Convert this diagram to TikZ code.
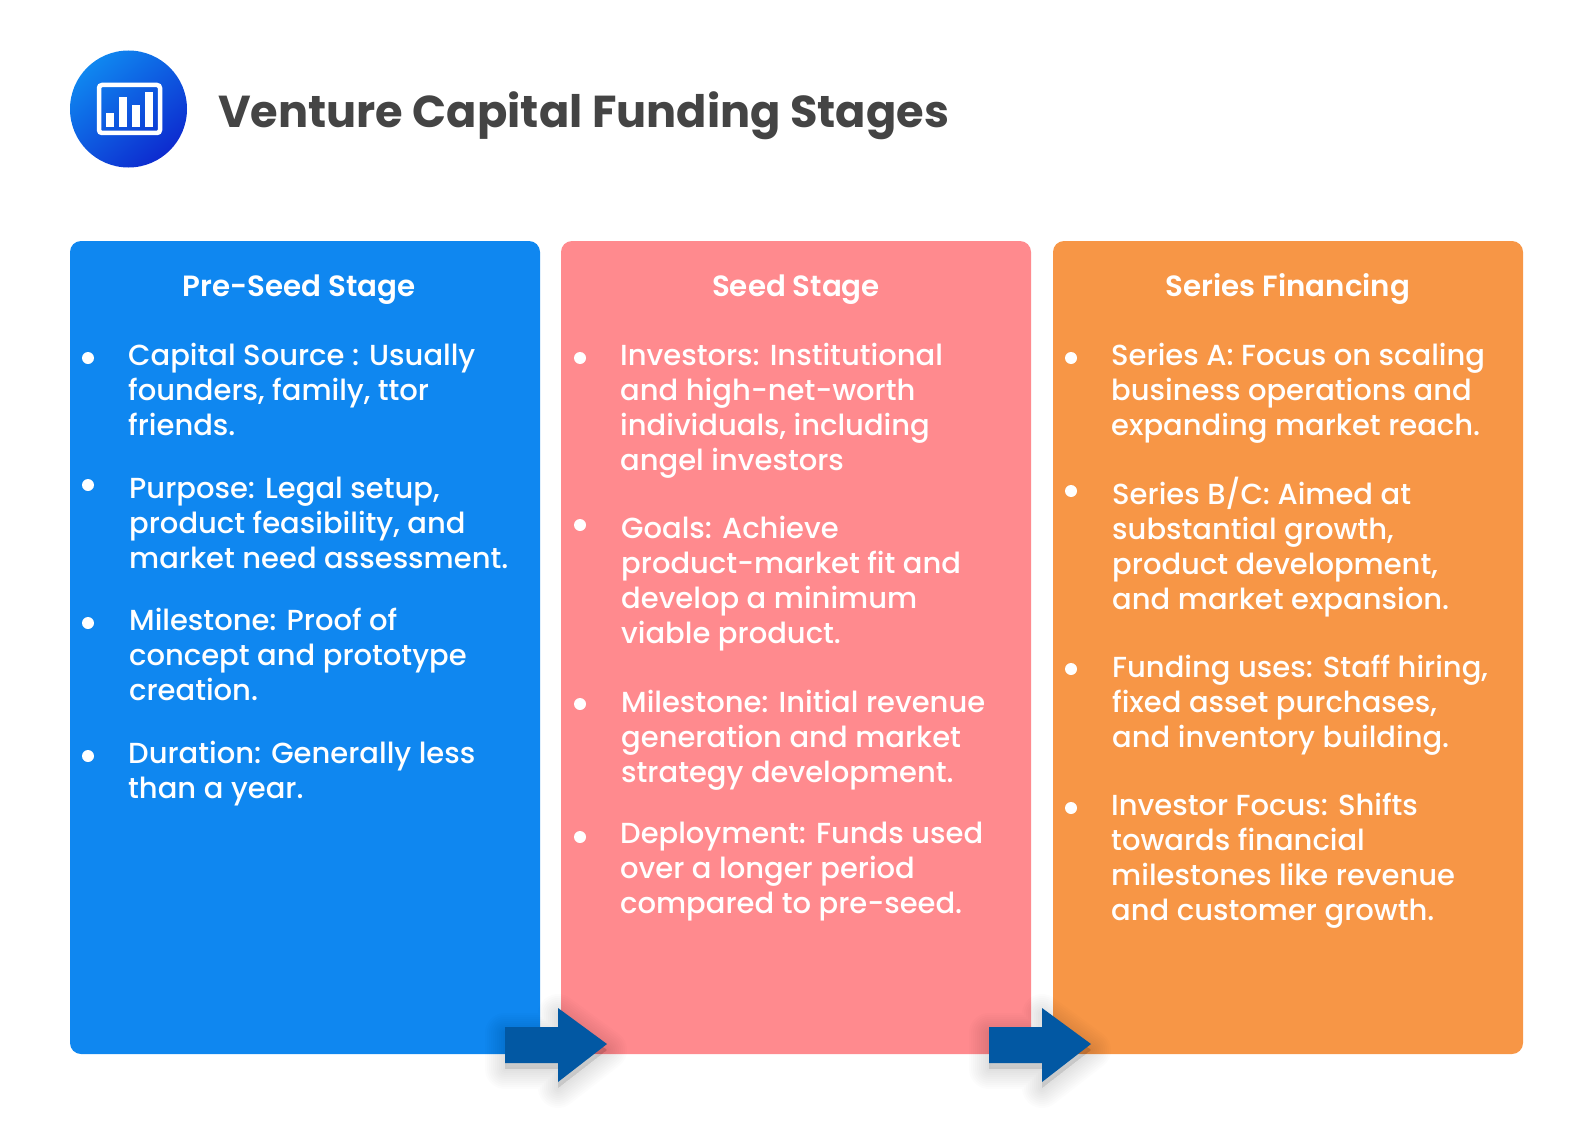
\documentclass[tikz,border=0pt]{standalone}
\usepackage{fontspec}
\setmainfont{Poppins Medium}[BoldFont=Poppins SemiBold]
\newfontfamily\titlefont{Poppins Bold}
\usetikzlibrary{positioning,calc}

\definecolor{preseed}{HTML}{0F87F0}
\definecolor{seed}{HTML}{FF8A8E}
\definecolor{series}{HTML}{F79646}
\definecolor{arrowblue}{HTML}{0258A3}
\definecolor{titlegray}{HTML}{444444}
\definecolor{iconlight}{HTML}{0F87F0}
\definecolor{icondark}{HTML}{0D2BCF}

\tikzset{
  panel/.style={fill=#1, rounded corners=11pt},
  heading/.style={text=white, font=\fontsize{29.3}{35}\selectfont\bfseries},
  pointtext/.style={text=white, anchor=west, align=left, inner sep=0pt, font=\fontsize{29}{35}\selectfont},
  pointdot/.style={circle, fill=white, inner sep=0pt, minimum size=12pt},
  bar/.style={fill=white},
  flowarrow/.pic={
    \foreach \w in {40,36,...,4}
        \draw[black, opacity=0.011, line width=\w pt, line join=round, fill] (0,-17+6) -- (53,-17+6) -- (53,-36+6) -- (102,0+6) -- (53,38+6) -- (53,19+6) -- (0,19+6) -- cycle;
    \fill[arrowblue] (0,-17) -- (53,-17) -- (53,-36) -- (102,0) -- (53,38) -- (53,19) -- (0,19) -- cycle;
  }
}

\begin{document}
\begin{tikzpicture}[x=1pt, y=-1pt]
        \useasboundingbox (0,0) rectangle (1590,1137);

        % Draw icon
        \shade[left color=iconlight, right color=icondark, shading angle=40] (128.5,109) circle (58.5);
        \draw[white, line width=4.5pt, rounded corners=3pt] (99,85) rectangle (160,133);
        \foreach \left/\top in {106/113, 119/97, 132/105, 145/92}
            \fill[bar] (\left,\top) rectangle (\left+8,127);

        % Title
        \node[anchor=west, inner sep=0pt, text=titlegray, font=\titlefont\fontsize{44.7}{50}\selectfont] (title) at (218,116) {Venture Capital Funding Stages};

        % Draw panels
        \fill[panel=preseed] (70,241) rectangle (540,1054);
        \fill[panel=seed] (561,241) rectangle (1031,1054);
        \fill[panel=series] (1053,241) rectangle (1523,1054);

        % Headings
        \node[heading] (preseedhead) at (299,290) {Pre-Seed Stage};
        \node[heading] (seedhead) at (796,290) {Seed Stage};
        \node[heading] (serieshead) at (1288,289) {Series Financing};

        % Pre-seed points
        \foreach \name/\tx/\ty/\dy/\body in {
            a1/128/389/358/{Capital Source : Usually\\founders, family, ttor\\friends.},
            a2/129/523/485/{Purpose: Legal setup,\\product feasibility, and\\market need assessment.},
            a3/129/654/623/{Milestone: Proof of\\concept and prototype\\creation.},
            a4/128/774/756/{Duration: Generally less\\than a year.}}
        {
            \node[pointdot] (\name dot) at (88,\dy) {};
            \node[pointtext] (\name) at (\tx,\ty) {\body};
        }

        % Seed points
        \foreach \name/\tx/\ty/\dy/\body in {
            b1/620/411/358/{Investors: Institutional\\and high-net-worth\\individuals, including\\angel investors},
            b2/621/584/525/{Goals: Achieve\\product-market fit and\\develop a minimum\\viable product.},
            b3/621/740/704/{Milestone: Initial revenue\\generation and market\\strategy development.},
            b4/620/872/837/{Deployment: Funds used\\over a longer period\\compared to pre-seed.}}
        {
            \node[pointdot] (\name dot) at (580,\dy) {};
            \node[pointtext] (\name) at (\tx,\ty) {\body};
        }

        % Series points
        \foreach \name/\tx/\ty/\dy/\body in {
            c1/1111/393/358/{Series A: Focus on scaling\\business operations and\\expanding market reach.},
            c2/1112/547/491/{Series B/C: Aimed at\\substantial growth,\\product development,\\and market expansion.},
            c3/1112/705/669/{Funding uses: Staff hiring,\\fixed asset purchases,\\and inventory building.},
            c4/1111/861/808/{Investor Focus: Shifts\\towards financial\\milestones like revenue\\and customer growth.}}
        {
            \node[pointdot] (\name dot) at (1071,\dy) {};
            \node[pointtext] (\name) at (\tx,\ty) {\body};
        }

        % Draw arrows
        \pic at (505,1044) {flowarrow};
        \pic at (989,1044) {flowarrow};
\end{tikzpicture}
\end{document}
